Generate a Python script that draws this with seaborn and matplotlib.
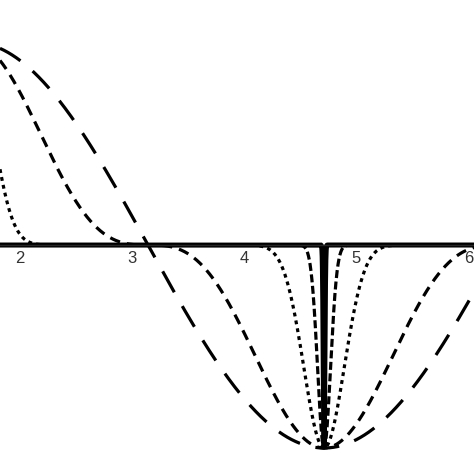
import numpy as np
import pandas as pd
import seaborn as sns
import matplotlib.pyplot as plt
from matplotlib.ticker import MultipleLocator

# odd powers of sin(x); the last one stands in for the limit function
powers = [1, 3, 31, 301]
limit_power = 20001
styles = [(0, (7.5, 5.0)), (0, (3.3, 2.2)), (0, (1.2, 1.3)), (0, (2.5, 1.1))]

x_min, x_max = 1.8216, 6.05
y_min, y_max = -1.128, 1.207
major_ticks = [2, 3, 4, 5, 6]

sns.set_style("white")
plt.rcParams['font.family'] = ['Liberation Sans', 'DejaVu Sans']

x = np.sort(np.append(np.linspace(x_min, x_max, 20001), 1.5 * np.pi))
curves = pd.DataFrame({"x": x})
for n in powers + [limit_power]:
    curves[f"n{n}"] = np.sin(x) ** n

fig = plt.figure(figsize=(4.74, 4.74), dpi=100)
ax = fig.add_axes([0, 0, 1, 1])

for n, ls in zip(powers, styles):
    sns.lineplot(data=curves, x="x", y=f"n{n}", ax=ax, color="black",
                 lw=2.3, linestyle=ls, dash_capstyle="butt")

sns.lineplot(data=curves, x="x", y=f"n{limit_power}", ax=ax, color="black",
             lw=3.6, solid_joinstyle="miter")

ax.set_xlim(x_min, x_max)
ax.set_ylim(y_min, y_max)
ax.set_xlabel("")
ax.set_ylabel("")
ax.set_yticks([])
for side in ["left", "right", "top"]:
    ax.spines[side].set_visible(False)
ax.spines["bottom"].set_position(("data", 0))
ax.spines["bottom"].set_linewidth(1)

ax.set_xticks(major_ticks)
ax.xaxis.set_minor_locator(MultipleLocator(0.2))
ax.tick_params(axis="x", which="major", direction="in", length=5.5, width=0.9,
               color="#333333", pad=4, labelsize=12, labelcolor="#333333")
ax.tick_params(axis="x", which="minor", direction="in", length=3.2, width=0.8,
               color="#333333")

fig.savefig("out.png", dpi=100)
